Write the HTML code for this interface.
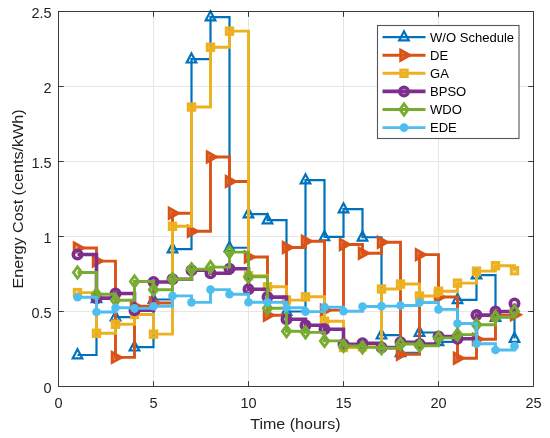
<!DOCTYPE html>
<html lang="en"><head><meta charset="utf-8"><title>Energy Cost</title>
<style>
html,body{margin:0;padding:0;background:#fff;}
svg{display:block;}
text{font-family:"Liberation Sans",sans-serif;fill:#1f1f1f;}
.tk{font-size:14.5px;}
.lb{font-size:14.9px;}
.lg{font-size:13.05px;fill:#000;}
</style></head><body>
<svg width="550" height="438" viewBox="0 0 550 438">
<rect x="0" y="0" width="550" height="438" fill="#ffffff"/>
<g stroke="#e3e3e3" stroke-width="0.9" fill="none">
<path d="M153.5,11.5 V386.5"/>
<path d="M248.5,11.5 V386.5"/>
<path d="M343.5,11.5 V386.5"/>
<path d="M438.5,11.5 V386.5"/>
<path d="M58.5,311.5 H533.5"/>
<path d="M58.5,236.5 H533.5"/>
<path d="M58.5,161.5 H533.5"/>
<path d="M58.5,86.5 H533.5"/>
</g>
<g id="s-wo">
<path d="M77.5,355.0 H96.5 V298.75 H115.5 V317.05 H134.5 V347.2 H153.5 V299.5 H172.5 V249.1 H191.5 V59.2 H210.5 V17.05 H229.5 V247.75 H248.5 V214.15 H267.5 V220.15 H286.5 V311.5 H305.5 V180.1 H324.5 V236.95 H343.5 V209.05 H362.5 V237.25 H381.5 V335.2 H400.5 V352.75 H419.5 V332.5 H438.5 V341.8 H457.5 V299.8 H476.5 V275.05 H495.5 V317.5 H514.5 V338.5" fill="none" stroke="#0072BD" stroke-width="2.2" stroke-linejoin="miter" stroke-linecap="butt"/>
<path d="M77.50,349.20 L82.30,358.30 L72.70,358.30 Z" fill="none" stroke="#0072BD" stroke-width="2.2" stroke-linejoin="miter"/>
<path d="M96.50,292.95 L101.30,302.05 L91.70,302.05 Z" fill="none" stroke="#0072BD" stroke-width="2.2" stroke-linejoin="miter"/>
<path d="M115.50,311.25 L120.30,320.35 L110.70,320.35 Z" fill="none" stroke="#0072BD" stroke-width="2.2" stroke-linejoin="miter"/>
<path d="M134.50,341.40 L139.30,350.50 L129.70,350.50 Z" fill="none" stroke="#0072BD" stroke-width="2.2" stroke-linejoin="miter"/>
<path d="M153.50,293.70 L158.30,302.80 L148.70,302.80 Z" fill="none" stroke="#0072BD" stroke-width="2.2" stroke-linejoin="miter"/>
<path d="M172.50,243.30 L177.30,252.40 L167.70,252.40 Z" fill="none" stroke="#0072BD" stroke-width="2.2" stroke-linejoin="miter"/>
<path d="M191.50,53.40 L196.30,62.50 L186.70,62.50 Z" fill="none" stroke="#0072BD" stroke-width="2.2" stroke-linejoin="miter"/>
<path d="M210.50,11.25 L215.30,20.35 L205.70,20.35 Z" fill="none" stroke="#0072BD" stroke-width="2.2" stroke-linejoin="miter"/>
<path d="M229.50,241.95 L234.30,251.05 L224.70,251.05 Z" fill="none" stroke="#0072BD" stroke-width="2.2" stroke-linejoin="miter"/>
<path d="M248.50,208.35 L253.30,217.45 L243.70,217.45 Z" fill="none" stroke="#0072BD" stroke-width="2.2" stroke-linejoin="miter"/>
<path d="M267.50,214.35 L272.30,223.45 L262.70,223.45 Z" fill="none" stroke="#0072BD" stroke-width="2.2" stroke-linejoin="miter"/>
<path d="M286.50,305.70 L291.30,314.80 L281.70,314.80 Z" fill="none" stroke="#0072BD" stroke-width="2.2" stroke-linejoin="miter"/>
<path d="M305.50,174.30 L310.30,183.40 L300.70,183.40 Z" fill="none" stroke="#0072BD" stroke-width="2.2" stroke-linejoin="miter"/>
<path d="M324.50,231.15 L329.30,240.25 L319.70,240.25 Z" fill="none" stroke="#0072BD" stroke-width="2.2" stroke-linejoin="miter"/>
<path d="M343.50,203.25 L348.30,212.35 L338.70,212.35 Z" fill="none" stroke="#0072BD" stroke-width="2.2" stroke-linejoin="miter"/>
<path d="M362.50,231.45 L367.30,240.55 L357.70,240.55 Z" fill="none" stroke="#0072BD" stroke-width="2.2" stroke-linejoin="miter"/>
<path d="M381.50,329.40 L386.30,338.50 L376.70,338.50 Z" fill="none" stroke="#0072BD" stroke-width="2.2" stroke-linejoin="miter"/>
<path d="M400.50,346.95 L405.30,356.05 L395.70,356.05 Z" fill="none" stroke="#0072BD" stroke-width="2.2" stroke-linejoin="miter"/>
<path d="M419.50,326.70 L424.30,335.80 L414.70,335.80 Z" fill="none" stroke="#0072BD" stroke-width="2.2" stroke-linejoin="miter"/>
<path d="M438.50,336.00 L443.30,345.10 L433.70,345.10 Z" fill="none" stroke="#0072BD" stroke-width="2.2" stroke-linejoin="miter"/>
<path d="M457.50,294.00 L462.30,303.10 L452.70,303.10 Z" fill="none" stroke="#0072BD" stroke-width="2.2" stroke-linejoin="miter"/>
<path d="M476.50,269.25 L481.30,278.35 L471.70,278.35 Z" fill="none" stroke="#0072BD" stroke-width="2.2" stroke-linejoin="miter"/>
<path d="M495.50,311.70 L500.30,320.80 L490.70,320.80 Z" fill="none" stroke="#0072BD" stroke-width="2.2" stroke-linejoin="miter"/>
<path d="M514.50,332.70 L519.30,341.80 L509.70,341.80 Z" fill="none" stroke="#0072BD" stroke-width="2.2" stroke-linejoin="miter"/>
</g>
<g id="s-de">
<path d="M77.5,248.05 H96.5 V261.1 H115.5 V357.4 H134.5 V306.25 H153.5 V302.95 H172.5 V213.25 H191.5 V231.25 H210.5 V157.0 H229.5 V181.45 H248.5 V257.05 H267.5 V315.25 H286.5 V247.45 H305.5 V241.3 H324.5 V310.15 H343.5 V244.45 H362.5 V253.3 H381.5 V242.2 H400.5 V354.25 H419.5 V254.65 H438.5 V296.95 H457.5 V358.3 H476.5 V339.25 H495.5 V315.1 H514.5 V314.8" fill="none" stroke="#D95319" stroke-width="2.9" stroke-linejoin="miter" stroke-linecap="butt"/>
<path d="M83.30,248.05 L74.20,253.05 L74.20,243.05 Z" fill="#D95319" fill-opacity="0.55" stroke="#D95319" stroke-width="2.9" stroke-linejoin="miter"/>
<path d="M102.30,261.10 L93.20,266.10 L93.20,256.10 Z" fill="#D95319" fill-opacity="0.55" stroke="#D95319" stroke-width="2.9" stroke-linejoin="miter"/>
<path d="M121.30,357.40 L112.20,362.40 L112.20,352.40 Z" fill="#D95319" fill-opacity="0.55" stroke="#D95319" stroke-width="2.9" stroke-linejoin="miter"/>
<path d="M140.30,306.25 L131.20,311.25 L131.20,301.25 Z" fill="#D95319" fill-opacity="0.55" stroke="#D95319" stroke-width="2.9" stroke-linejoin="miter"/>
<path d="M159.30,302.95 L150.20,307.95 L150.20,297.95 Z" fill="#D95319" fill-opacity="0.55" stroke="#D95319" stroke-width="2.9" stroke-linejoin="miter"/>
<path d="M178.30,213.25 L169.20,218.25 L169.20,208.25 Z" fill="#D95319" fill-opacity="0.55" stroke="#D95319" stroke-width="2.9" stroke-linejoin="miter"/>
<path d="M197.30,231.25 L188.20,236.25 L188.20,226.25 Z" fill="#D95319" fill-opacity="0.55" stroke="#D95319" stroke-width="2.9" stroke-linejoin="miter"/>
<path d="M216.30,157.00 L207.20,162.00 L207.20,152.00 Z" fill="#D95319" fill-opacity="0.55" stroke="#D95319" stroke-width="2.9" stroke-linejoin="miter"/>
<path d="M235.30,181.45 L226.20,186.45 L226.20,176.45 Z" fill="#D95319" fill-opacity="0.55" stroke="#D95319" stroke-width="2.9" stroke-linejoin="miter"/>
<path d="M254.30,257.05 L245.20,262.05 L245.20,252.05 Z" fill="#D95319" fill-opacity="0.55" stroke="#D95319" stroke-width="2.9" stroke-linejoin="miter"/>
<path d="M273.30,315.25 L264.20,320.25 L264.20,310.25 Z" fill="#D95319" fill-opacity="0.55" stroke="#D95319" stroke-width="2.9" stroke-linejoin="miter"/>
<path d="M292.30,247.45 L283.20,252.45 L283.20,242.45 Z" fill="#D95319" fill-opacity="0.55" stroke="#D95319" stroke-width="2.9" stroke-linejoin="miter"/>
<path d="M311.30,241.30 L302.20,246.30 L302.20,236.30 Z" fill="#D95319" fill-opacity="0.55" stroke="#D95319" stroke-width="2.9" stroke-linejoin="miter"/>
<path d="M330.30,310.15 L321.20,315.15 L321.20,305.15 Z" fill="#D95319" fill-opacity="0.55" stroke="#D95319" stroke-width="2.9" stroke-linejoin="miter"/>
<path d="M349.30,244.45 L340.20,249.45 L340.20,239.45 Z" fill="#D95319" fill-opacity="0.55" stroke="#D95319" stroke-width="2.9" stroke-linejoin="miter"/>
<path d="M368.30,253.30 L359.20,258.30 L359.20,248.30 Z" fill="#D95319" fill-opacity="0.55" stroke="#D95319" stroke-width="2.9" stroke-linejoin="miter"/>
<path d="M387.30,242.20 L378.20,247.20 L378.20,237.20 Z" fill="#D95319" fill-opacity="0.55" stroke="#D95319" stroke-width="2.9" stroke-linejoin="miter"/>
<path d="M406.30,354.25 L397.20,359.25 L397.20,349.25 Z" fill="#D95319" fill-opacity="0.55" stroke="#D95319" stroke-width="2.9" stroke-linejoin="miter"/>
<path d="M425.30,254.65 L416.20,259.65 L416.20,249.65 Z" fill="#D95319" fill-opacity="0.55" stroke="#D95319" stroke-width="2.9" stroke-linejoin="miter"/>
<path d="M444.30,296.95 L435.20,301.95 L435.20,291.95 Z" fill="#D95319" fill-opacity="0.55" stroke="#D95319" stroke-width="2.9" stroke-linejoin="miter"/>
<path d="M463.30,358.30 L454.20,363.30 L454.20,353.30 Z" fill="#D95319" fill-opacity="0.55" stroke="#D95319" stroke-width="2.9" stroke-linejoin="miter"/>
<path d="M482.30,339.25 L473.20,344.25 L473.20,334.25 Z" fill="#D95319" fill-opacity="0.55" stroke="#D95319" stroke-width="2.9" stroke-linejoin="miter"/>
<path d="M501.30,315.10 L492.20,320.10 L492.20,310.10 Z" fill="#D95319" fill-opacity="0.55" stroke="#D95319" stroke-width="2.9" stroke-linejoin="miter"/>
<path d="M520.30,314.80 L511.20,319.80 L511.20,309.80 Z" fill="#D95319" fill-opacity="0.55" stroke="#D95319" stroke-width="2.9" stroke-linejoin="miter"/>
</g>
<g id="s-ga">
<path d="M77.5,292.6 H96.5 V333.25 H115.5 V324.25 H134.5 V314.5 H153.5 V334.15 H172.5 V226.3 H191.5 V107.05 H210.5 V47.2 H229.5 V31.15 H248.5 V275.8 H267.5 V286.75 H286.5 V300.1 H305.5 V296.8 H324.5 V321.25 H343.5 V347.5 H362.5 V346.75 H381.5 V289.0 H400.5 V284.05 H419.5 V296.05 H438.5 V291.25 H457.5 V283.15 H476.5 V271.15 H495.5 V265.75 H514.5 V270.7" fill="none" stroke="#EDB120" stroke-width="2.9" stroke-linejoin="miter" stroke-linecap="butt"/>
<rect x="74.25" y="289.35" width="6.5" height="6.5" fill="#EDB120" fill-opacity="0.45" stroke="#EDB120" stroke-width="2.9"/>
<rect x="93.25" y="330.00" width="6.5" height="6.5" fill="#EDB120" fill-opacity="0.45" stroke="#EDB120" stroke-width="2.9"/>
<rect x="112.25" y="321.00" width="6.5" height="6.5" fill="#EDB120" fill-opacity="0.45" stroke="#EDB120" stroke-width="2.9"/>
<rect x="131.25" y="311.25" width="6.5" height="6.5" fill="#EDB120" fill-opacity="0.45" stroke="#EDB120" stroke-width="2.9"/>
<rect x="150.25" y="330.90" width="6.5" height="6.5" fill="#EDB120" fill-opacity="0.45" stroke="#EDB120" stroke-width="2.9"/>
<rect x="169.25" y="223.05" width="6.5" height="6.5" fill="#EDB120" fill-opacity="0.45" stroke="#EDB120" stroke-width="2.9"/>
<rect x="188.25" y="103.80" width="6.5" height="6.5" fill="#EDB120" fill-opacity="0.45" stroke="#EDB120" stroke-width="2.9"/>
<rect x="207.25" y="43.95" width="6.5" height="6.5" fill="#EDB120" fill-opacity="0.45" stroke="#EDB120" stroke-width="2.9"/>
<rect x="226.25" y="27.90" width="6.5" height="6.5" fill="#EDB120" fill-opacity="0.45" stroke="#EDB120" stroke-width="2.9"/>
<rect x="245.25" y="272.55" width="6.5" height="6.5" fill="#EDB120" fill-opacity="0.45" stroke="#EDB120" stroke-width="2.9"/>
<rect x="264.25" y="283.50" width="6.5" height="6.5" fill="#EDB120" fill-opacity="0.45" stroke="#EDB120" stroke-width="2.9"/>
<rect x="283.25" y="296.85" width="6.5" height="6.5" fill="#EDB120" fill-opacity="0.45" stroke="#EDB120" stroke-width="2.9"/>
<rect x="302.25" y="293.55" width="6.5" height="6.5" fill="#EDB120" fill-opacity="0.45" stroke="#EDB120" stroke-width="2.9"/>
<rect x="321.25" y="318.00" width="6.5" height="6.5" fill="#EDB120" fill-opacity="0.45" stroke="#EDB120" stroke-width="2.9"/>
<rect x="340.25" y="344.25" width="6.5" height="6.5" fill="#EDB120" fill-opacity="0.45" stroke="#EDB120" stroke-width="2.9"/>
<rect x="359.25" y="343.50" width="6.5" height="6.5" fill="#EDB120" fill-opacity="0.45" stroke="#EDB120" stroke-width="2.9"/>
<rect x="378.25" y="285.75" width="6.5" height="6.5" fill="#EDB120" fill-opacity="0.45" stroke="#EDB120" stroke-width="2.9"/>
<rect x="397.25" y="280.80" width="6.5" height="6.5" fill="#EDB120" fill-opacity="0.45" stroke="#EDB120" stroke-width="2.9"/>
<rect x="416.25" y="292.80" width="6.5" height="6.5" fill="#EDB120" fill-opacity="0.45" stroke="#EDB120" stroke-width="2.9"/>
<rect x="435.25" y="288.00" width="6.5" height="6.5" fill="#EDB120" fill-opacity="0.45" stroke="#EDB120" stroke-width="2.9"/>
<rect x="454.25" y="279.90" width="6.5" height="6.5" fill="#EDB120" fill-opacity="0.45" stroke="#EDB120" stroke-width="2.9"/>
<rect x="473.25" y="267.90" width="6.5" height="6.5" fill="#EDB120" fill-opacity="0.45" stroke="#EDB120" stroke-width="2.9"/>
<rect x="492.25" y="262.50" width="6.5" height="6.5" fill="#EDB120" fill-opacity="0.45" stroke="#EDB120" stroke-width="2.9"/>
<rect x="511.25" y="267.45" width="6.5" height="6.5" fill="#EDB120" fill-opacity="0.45" stroke="#EDB120" stroke-width="2.9"/>
</g>
<g id="s-bpso">
<path d="M77.5,254.5 H96.5 V298.15 H115.5 V293.5 H134.5 V310.3 H153.5 V281.95 H172.5 V279.25 H191.5 V270.25 H210.5 V273.25 H229.5 V268.75 H248.5 V289.3 H267.5 V297.1 H286.5 V319.3 H305.5 V325.3 H324.5 V329.2 H343.5 V344.35 H362.5 V343.3 H381.5 V347.5 H400.5 V342.25 H419.5 V344.05 H438.5 V336.55 H457.5 V338.8 H476.5 V315.1 H495.5 V311.5 H514.5 V303.4" fill="none" stroke="#7E2F8E" stroke-width="3.6" stroke-linejoin="miter" stroke-linecap="butt"/>
<circle cx="77.50" cy="254.50" r="4.2" fill="none" stroke="#7E2F8E" stroke-width="3.6"/>
<circle cx="96.50" cy="298.15" r="4.2" fill="none" stroke="#7E2F8E" stroke-width="3.6"/>
<circle cx="115.50" cy="293.50" r="4.2" fill="none" stroke="#7E2F8E" stroke-width="3.6"/>
<circle cx="134.50" cy="310.30" r="4.2" fill="none" stroke="#7E2F8E" stroke-width="3.6"/>
<circle cx="153.50" cy="281.95" r="4.2" fill="none" stroke="#7E2F8E" stroke-width="3.6"/>
<circle cx="172.50" cy="279.25" r="4.2" fill="none" stroke="#7E2F8E" stroke-width="3.6"/>
<circle cx="191.50" cy="270.25" r="4.2" fill="none" stroke="#7E2F8E" stroke-width="3.6"/>
<circle cx="210.50" cy="273.25" r="4.2" fill="none" stroke="#7E2F8E" stroke-width="3.6"/>
<circle cx="229.50" cy="268.75" r="4.2" fill="none" stroke="#7E2F8E" stroke-width="3.6"/>
<circle cx="248.50" cy="289.30" r="4.2" fill="none" stroke="#7E2F8E" stroke-width="3.6"/>
<circle cx="267.50" cy="297.10" r="4.2" fill="none" stroke="#7E2F8E" stroke-width="3.6"/>
<circle cx="286.50" cy="319.30" r="4.2" fill="none" stroke="#7E2F8E" stroke-width="3.6"/>
<circle cx="305.50" cy="325.30" r="4.2" fill="none" stroke="#7E2F8E" stroke-width="3.6"/>
<circle cx="324.50" cy="329.20" r="4.2" fill="none" stroke="#7E2F8E" stroke-width="3.6"/>
<circle cx="343.50" cy="344.35" r="4.2" fill="none" stroke="#7E2F8E" stroke-width="3.6"/>
<circle cx="362.50" cy="343.30" r="4.2" fill="none" stroke="#7E2F8E" stroke-width="3.6"/>
<circle cx="381.50" cy="347.50" r="4.2" fill="none" stroke="#7E2F8E" stroke-width="3.6"/>
<circle cx="400.50" cy="342.25" r="4.2" fill="none" stroke="#7E2F8E" stroke-width="3.6"/>
<circle cx="419.50" cy="344.05" r="4.2" fill="none" stroke="#7E2F8E" stroke-width="3.6"/>
<circle cx="438.50" cy="336.55" r="4.2" fill="none" stroke="#7E2F8E" stroke-width="3.6"/>
<circle cx="457.50" cy="338.80" r="4.2" fill="none" stroke="#7E2F8E" stroke-width="3.6"/>
<circle cx="476.50" cy="315.10" r="4.2" fill="none" stroke="#7E2F8E" stroke-width="3.6"/>
<circle cx="495.50" cy="311.50" r="4.2" fill="none" stroke="#7E2F8E" stroke-width="3.6"/>
<circle cx="514.50" cy="303.40" r="4.2" fill="none" stroke="#7E2F8E" stroke-width="3.6"/>
</g>
<g id="s-wdo">
<path d="M77.5,272.5 H96.5 V294.25 H115.5 V300.25 H134.5 V281.5 H153.5 V289.75 H172.5 V279.25 H191.5 V269.2 H210.5 V267.1 H229.5 V252.1 H248.5 V276.7 H267.5 V308.2 H286.5 V331.3 H305.5 V332.35 H324.5 V340.9 H343.5 V346.0 H362.5 V347.35 H381.5 V348.25 H400.5 V344.05 H419.5 V345.7 H438.5 V337.9 H457.5 V334.6 H476.5 V324.7 H495.5 V317.05 H514.5 V311.2" fill="none" stroke="#77AC30" stroke-width="2.9" stroke-linejoin="miter" stroke-linecap="butt"/>
<path d="M77.50,266.90 L81.60,272.50 L77.50,278.10 L73.40,272.50 Z" fill="none" stroke="#77AC30" stroke-width="2.9" stroke-linejoin="miter"/>
<path d="M96.50,288.65 L100.60,294.25 L96.50,299.85 L92.40,294.25 Z" fill="none" stroke="#77AC30" stroke-width="2.9" stroke-linejoin="miter"/>
<path d="M115.50,294.65 L119.60,300.25 L115.50,305.85 L111.40,300.25 Z" fill="none" stroke="#77AC30" stroke-width="2.9" stroke-linejoin="miter"/>
<path d="M134.50,275.90 L138.60,281.50 L134.50,287.10 L130.40,281.50 Z" fill="none" stroke="#77AC30" stroke-width="2.9" stroke-linejoin="miter"/>
<path d="M153.50,284.15 L157.60,289.75 L153.50,295.35 L149.40,289.75 Z" fill="none" stroke="#77AC30" stroke-width="2.9" stroke-linejoin="miter"/>
<path d="M172.50,273.65 L176.60,279.25 L172.50,284.85 L168.40,279.25 Z" fill="none" stroke="#77AC30" stroke-width="2.9" stroke-linejoin="miter"/>
<path d="M191.50,263.60 L195.60,269.20 L191.50,274.80 L187.40,269.20 Z" fill="none" stroke="#77AC30" stroke-width="2.9" stroke-linejoin="miter"/>
<path d="M210.50,261.50 L214.60,267.10 L210.50,272.70 L206.40,267.10 Z" fill="none" stroke="#77AC30" stroke-width="2.9" stroke-linejoin="miter"/>
<path d="M229.50,246.50 L233.60,252.10 L229.50,257.70 L225.40,252.10 Z" fill="none" stroke="#77AC30" stroke-width="2.9" stroke-linejoin="miter"/>
<path d="M248.50,271.10 L252.60,276.70 L248.50,282.30 L244.40,276.70 Z" fill="none" stroke="#77AC30" stroke-width="2.9" stroke-linejoin="miter"/>
<path d="M267.50,302.60 L271.60,308.20 L267.50,313.80 L263.40,308.20 Z" fill="none" stroke="#77AC30" stroke-width="2.9" stroke-linejoin="miter"/>
<path d="M286.50,325.70 L290.60,331.30 L286.50,336.90 L282.40,331.30 Z" fill="none" stroke="#77AC30" stroke-width="2.9" stroke-linejoin="miter"/>
<path d="M305.50,326.75 L309.60,332.35 L305.50,337.95 L301.40,332.35 Z" fill="none" stroke="#77AC30" stroke-width="2.9" stroke-linejoin="miter"/>
<path d="M324.50,335.30 L328.60,340.90 L324.50,346.50 L320.40,340.90 Z" fill="none" stroke="#77AC30" stroke-width="2.9" stroke-linejoin="miter"/>
<path d="M343.50,340.40 L347.60,346.00 L343.50,351.60 L339.40,346.00 Z" fill="none" stroke="#77AC30" stroke-width="2.9" stroke-linejoin="miter"/>
<path d="M362.50,341.75 L366.60,347.35 L362.50,352.95 L358.40,347.35 Z" fill="none" stroke="#77AC30" stroke-width="2.9" stroke-linejoin="miter"/>
<path d="M381.50,342.65 L385.60,348.25 L381.50,353.85 L377.40,348.25 Z" fill="none" stroke="#77AC30" stroke-width="2.9" stroke-linejoin="miter"/>
<path d="M400.50,338.45 L404.60,344.05 L400.50,349.65 L396.40,344.05 Z" fill="none" stroke="#77AC30" stroke-width="2.9" stroke-linejoin="miter"/>
<path d="M419.50,340.10 L423.60,345.70 L419.50,351.30 L415.40,345.70 Z" fill="none" stroke="#77AC30" stroke-width="2.9" stroke-linejoin="miter"/>
<path d="M438.50,332.30 L442.60,337.90 L438.50,343.50 L434.40,337.90 Z" fill="none" stroke="#77AC30" stroke-width="2.9" stroke-linejoin="miter"/>
<path d="M457.50,329.00 L461.60,334.60 L457.50,340.20 L453.40,334.60 Z" fill="none" stroke="#77AC30" stroke-width="2.9" stroke-linejoin="miter"/>
<path d="M476.50,319.10 L480.60,324.70 L476.50,330.30 L472.40,324.70 Z" fill="none" stroke="#77AC30" stroke-width="2.9" stroke-linejoin="miter"/>
<path d="M495.50,311.45 L499.60,317.05 L495.50,322.65 L491.40,317.05 Z" fill="none" stroke="#77AC30" stroke-width="2.9" stroke-linejoin="miter"/>
<path d="M514.50,305.60 L518.60,311.20 L514.50,316.80 L510.40,311.20 Z" fill="none" stroke="#77AC30" stroke-width="2.9" stroke-linejoin="miter"/>
</g>
<g id="s-ede">
<path d="M77.5,297.25 H96.5 V311.95 H115.5 V307.75 H134.5 V308.35 H153.5 V306.25 H172.5 V295.9 H191.5 V302.35 H210.5 V289.6 H229.5 V294.25 H248.5 V302.2 H267.5 V302.2 H286.5 V307.75 H305.5 V311.65 H324.5 V307.15 H343.5 V311.2 H362.5 V306.55 H381.5 V306.1 H400.5 V305.5 H419.5 V302.5 H438.5 V309.4 H457.5 V323.5 H476.5 V343.75 H495.5 V350.05 H514.5 V346.15" fill="none" stroke="#4DBEEE" stroke-width="2.9" stroke-linejoin="miter" stroke-linecap="butt"/>
<circle cx="77.50" cy="297.25" r="4.3" fill="#4DBEEE"/>
<circle cx="96.50" cy="311.95" r="4.3" fill="#4DBEEE"/>
<circle cx="115.50" cy="307.75" r="4.3" fill="#4DBEEE"/>
<circle cx="134.50" cy="308.35" r="4.3" fill="#4DBEEE"/>
<circle cx="153.50" cy="306.25" r="4.3" fill="#4DBEEE"/>
<circle cx="172.50" cy="295.90" r="4.3" fill="#4DBEEE"/>
<circle cx="191.50" cy="302.35" r="4.3" fill="#4DBEEE"/>
<circle cx="210.50" cy="289.60" r="4.3" fill="#4DBEEE"/>
<circle cx="229.50" cy="294.25" r="4.3" fill="#4DBEEE"/>
<circle cx="248.50" cy="302.20" r="4.3" fill="#4DBEEE"/>
<circle cx="267.50" cy="302.20" r="4.3" fill="#4DBEEE"/>
<circle cx="286.50" cy="307.75" r="4.3" fill="#4DBEEE"/>
<circle cx="305.50" cy="311.65" r="4.3" fill="#4DBEEE"/>
<circle cx="324.50" cy="307.15" r="4.3" fill="#4DBEEE"/>
<circle cx="343.50" cy="311.20" r="4.3" fill="#4DBEEE"/>
<circle cx="362.50" cy="306.55" r="4.3" fill="#4DBEEE"/>
<circle cx="381.50" cy="306.10" r="4.3" fill="#4DBEEE"/>
<circle cx="400.50" cy="305.50" r="4.3" fill="#4DBEEE"/>
<circle cx="419.50" cy="302.50" r="4.3" fill="#4DBEEE"/>
<circle cx="438.50" cy="309.40" r="4.3" fill="#4DBEEE"/>
<circle cx="457.50" cy="323.50" r="4.3" fill="#4DBEEE"/>
<circle cx="476.50" cy="343.75" r="4.3" fill="#4DBEEE"/>
<circle cx="495.50" cy="350.05" r="4.3" fill="#4DBEEE"/>
<circle cx="514.50" cy="346.15" r="4.3" fill="#4DBEEE"/>
</g>
<g stroke="#262626" stroke-width="0.9" fill="none">
<rect x="58.5" y="11.5" width="475.0" height="375.0"/>
<path d="M153.5,386.5 v-5.3 M153.5,11.5 v5.3"/>
<path d="M248.5,386.5 v-5.3 M248.5,11.5 v5.3"/>
<path d="M343.5,386.5 v-5.3 M343.5,11.5 v5.3"/>
<path d="M438.5,386.5 v-5.3 M438.5,11.5 v5.3"/>
<path d="M58.5,311.5 h5.3 M533.5,311.5 h-5.3"/>
<path d="M58.5,236.5 h5.3 M533.5,236.5 h-5.3"/>
<path d="M58.5,161.5 h5.3 M533.5,161.5 h-5.3"/>
<path d="M58.5,86.5 h5.3 M533.5,86.5 h-5.3"/>
</g>
<text class="tk" x="58.5" y="407.8" text-anchor="middle">0</text>
<text class="tk" x="153.5" y="407.8" text-anchor="middle">5</text>
<text class="tk" x="248.5" y="407.8" text-anchor="middle">10</text>
<text class="tk" x="343.5" y="407.8" text-anchor="middle">15</text>
<text class="tk" x="438.5" y="407.8" text-anchor="middle">20</text>
<text class="tk" x="533.5" y="407.8" text-anchor="middle">25</text>
<text class="tk" x="51.6" y="392.90" text-anchor="end">0</text>
<text class="tk" x="51.6" y="317.90" text-anchor="end">0.5</text>
<text class="tk" x="51.6" y="242.90" text-anchor="end">1</text>
<text class="tk" x="51.6" y="167.90" text-anchor="end">1.5</text>
<text class="tk" x="51.6" y="92.90" text-anchor="end">2</text>
<text class="tk" x="51.6" y="17.90" text-anchor="end">2.5</text>
<text class="lb" x="295.4" y="429" text-anchor="middle" textLength="90.3" lengthAdjust="spacingAndGlyphs">Time (hours)</text>
<text class="lb" transform="translate(23.2,199) rotate(-90)" text-anchor="middle" textLength="179" lengthAdjust="spacingAndGlyphs">Energy Cost (cents/kWh)</text>
<rect x="377.5" y="25.5" width="141.5" height="113" fill="#ffffff" stroke="#555555" stroke-width="1.1"/>
<path d="M382.5,37.10 H425.5" stroke="#0072BD" stroke-width="2.2" fill="none"/>
<path d="M404.00,31.30 L408.80,40.40 L399.20,40.40 Z" fill="none" stroke="#0072BD" stroke-width="2.2" stroke-linejoin="miter"/>
<text class="lg" x="430" y="41.80">W/O Schedule</text>
<path d="M382.5,55.20 H425.5" stroke="#D95319" stroke-width="2.9" fill="none"/>
<path d="M409.80,55.20 L400.70,60.20 L400.70,50.20 Z" fill="#D95319" fill-opacity="0.55" stroke="#D95319" stroke-width="2.9" stroke-linejoin="miter"/>
<text class="lg" x="430" y="59.90">DE</text>
<path d="M382.5,73.30 H425.5" stroke="#EDB120" stroke-width="2.9" fill="none"/>
<rect x="400.75" y="70.05" width="6.5" height="6.5" fill="#EDB120" fill-opacity="0.45" stroke="#EDB120" stroke-width="2.9"/>
<text class="lg" x="430" y="78.00">GA</text>
<path d="M382.5,91.40 H425.5" stroke="#7E2F8E" stroke-width="3.6" fill="none"/>
<circle cx="404.00" cy="91.40" r="4.2" fill="none" stroke="#7E2F8E" stroke-width="3.6"/>
<text class="lg" x="430" y="96.10">BPSO</text>
<path d="M382.5,109.50 H425.5" stroke="#77AC30" stroke-width="2.9" fill="none"/>
<path d="M404.00,103.90 L408.10,109.50 L404.00,115.10 L399.90,109.50 Z" fill="none" stroke="#77AC30" stroke-width="2.9" stroke-linejoin="miter"/>
<text class="lg" x="430" y="114.20">WDO</text>
<path d="M382.5,127.60 H425.5" stroke="#4DBEEE" stroke-width="2.9" fill="none"/>
<circle cx="404.00" cy="127.60" r="4.3" fill="#4DBEEE"/>
<text class="lg" x="430" y="132.30">EDE</text>
</svg>
</body></html>
